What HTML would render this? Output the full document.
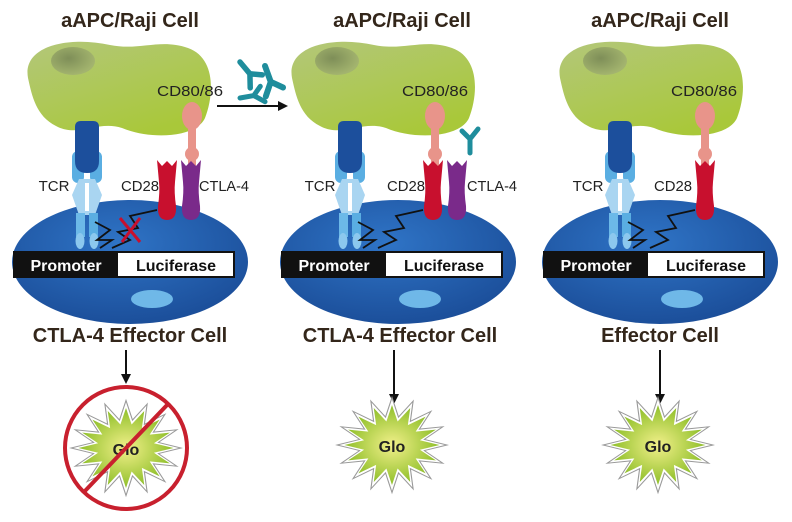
<!DOCTYPE html>
<html><head><meta charset="utf-8"><style>
html,body{margin:0;padding:0;background:#fff;}
svg{display:block;}
text{font-family:"Liberation Sans",sans-serif;}
.t{font-size:20px;font-weight:bold;fill:#33261a;}
.l{font-size:15px;fill:#222;}
.b{font-size:16px;font-weight:bold;}
</style></head><body>
<svg width="792" height="522" viewBox="0 0 792 522" xmlns="http://www.w3.org/2000/svg">
<defs>
<linearGradient id="gr" x1="0" y1="0" x2="0.6" y2="1"><stop offset="0" stop-color="#b3c77a"/><stop offset="1" stop-color="#a9c83a"/></linearGradient>
<radialGradient id="bl" cx="0.45" cy="0.35" r="0.7"><stop offset="0" stop-color="#2f74c6"/><stop offset="1" stop-color="#1a4c97"/></radialGradient>
<radialGradient id="gl" cx="0.5" cy="0.5" r="0.5"><stop offset="0" stop-color="#f2f08a"/><stop offset="1" stop-color="#8fbf2a"/></radialGradient>
<radialGradient id="nu" cx="0.4" cy="0.4" r="0.6"><stop offset="0" stop-color="#7e8e58"/><stop offset="1" stop-color="#a3b46e"/></radialGradient>
<polygon id="star" points="50,0 29.4,5.9 46.2,19.2 24.9,16.7 35.4,35.4 16.7,24.9 19.2,46.2 5.9,29.4 0,50 -5.9,29.4 -19.2,46.2 -16.7,24.9 -35.4,35.4 -24.9,16.7 -46.2,19.2 -29.4,5.9 -50,0 -29.4,-5.9 -46.2,-19.2 -24.9,-16.7 -35.4,-35.4 -16.7,-24.9 -19.2,-46.2 -5.9,-29.4 0,-50 5.9,-29.4 19.2,-46.2 16.7,-24.9 35.4,-35.4 24.9,-16.7 46.2,-19.2 29.4,-5.9"/>
<g id="tcr">
<rect x="-15" y="30" width="12" height="32" rx="6" fill="#5aaee2"/>
<rect x="3" y="30" width="12" height="32" rx="6" fill="#5aaee2"/>
<polygon points="-8,58 8,58 15,74 8,94 -8,94 -15,74" fill="#a9d5f1"/>
<rect x="-2" y="62" width="4" height="28" fill="#fff"/>
<rect x="-11" y="92" width="9" height="24" fill="#6cb9e8"/>
<rect x="2" y="92" width="9" height="24" fill="#5aaee2"/>
<ellipse cx="-7" cy="120" rx="4.5" ry="8" fill="#8cc8ee"/>
<ellipse cx="7" cy="120" rx="4.5" ry="8" fill="#8cc8ee"/>
<path d="M-12,6 Q-12,0 -6,0 L6,0 Q12,0 12,6 L12,40 Q12,52 0,52 Q-12,52 -12,40 Z" fill="#1c4f9c"/>
</g>
<g id="cd80">
<ellipse cx="0" cy="14" rx="10" ry="14" fill="#e8948a"/>
<rect x="-4" y="22" width="8" height="30" fill="#e8948a"/>
<circle cx="0" cy="52" r="7" fill="#e8948a"/>
<rect x="-4" y="56" width="8" height="8" fill="#e8948a"/>
</g>
<path id="rec" d="M-10,0 L-5,6 L0,1 L5,6 L10,0 L8,22 Q7,32 9,46 Q10,60 0,60 Q-10,60 -9,46 Q-7,32 -8,22 Z"/>
<g id="ab" fill="none" stroke="#1f8d9c" stroke-width="5" stroke-linecap="round">
<path d="M0,0 L0,14 M0,14 L-8,24 M0,14 L8,22"/>
</g>
</defs>

<line x1="217" y1="106" x2="280" y2="106" stroke="#111" stroke-width="2"/>
<polygon points="288,106 278,101 278,111" fill="#111"/>
<use href="#ab" transform="translate(240,62) rotate(-40) scale(1.1)"/>
<use href="#ab" transform="translate(265,66) rotate(-20) scale(1.2)"/>
<use href="#ab" transform="translate(240,98) rotate(-100) scale(1)"/>

<g>
<text x="130" y="27" text-anchor="middle" class="t">aAPC/Raji Cell</text>
<path d="M28,78 C22,45 70,36 110,45 C140,51 160,38 188,48 C216,58 214,95 205,118 C196,138 150,140 122,128 C98,120 78,138 56,126 C36,116 32,96 28,78 Z" fill="url(#gr)"/>
<ellipse cx="73" cy="61" rx="22" ry="14" fill="url(#nu)"/>
<ellipse cx="130" cy="262" rx="118" ry="62" fill="url(#bl)"/>
<ellipse cx="152" cy="299" rx="21" ry="9" fill="#6fb8e8"/>
<rect x="14" y="252" width="220" height="25" fill="#fff" stroke="#111" stroke-width="2"/>
<rect x="14" y="252" width="104" height="25" fill="#111"/>
<text x="66" y="271" text-anchor="middle" class="b" fill="#fff">Promoter</text>
<text x="176" y="271" text-anchor="middle" class="b" fill="#111">Luciferase</text>
<use href="#tcr" transform="translate(87,121)"/>
<use href="#cd80" transform="translate(192,102)"/>
<use href="#rec" fill="#c8102e" transform="translate(167,160)"/>
<use href="#rec" fill="#7a2a8a" transform="translate(191,160)"/>
<text x="190" y="96" text-anchor="middle" class="l" textLength="66" lengthAdjust="spacingAndGlyphs">CD80/86</text>
<text x="54" y="191" text-anchor="middle" class="l">TCR</text>
<text x="140" y="191" text-anchor="middle" class="l" textLength="38" lengthAdjust="spacingAndGlyphs">CD28</text>
<text x="224" y="191" text-anchor="middle" class="l" textLength="50" lengthAdjust="spacingAndGlyphs">CTLA-4</text>
<path d="M95,222 L110,230 L97,240 L112,240 L100,248" fill="none" stroke="#111" stroke-width="1.8"/>
<path d="M157,210 L130,216 L138,228 L118,232 L130,240 L112,248" fill="none" stroke="#111" stroke-width="1.8"/>
<path d="M120,218 L140,242 M140,218 L122,242" stroke="#c8102e" stroke-width="3"/>
<text x="130" y="342" text-anchor="middle" class="t">CTLA-4 Effector Cell</text>
<line x1="126" y1="350" x2="126" y2="378" stroke="#111" stroke-width="2"/>
<polygon points="126,384 121,374 131,374" fill="#111"/>
<use href="#star" transform="translate(126,448) scale(1.1,0.95)" fill="#fff" stroke="#999" stroke-width="1"/>
<use href="#star" transform="translate(126,448) scale(0.95,0.8)" fill="url(#gl)"/>
<text x="126" y="455" text-anchor="middle" class="b" fill="#222" font-size="16">Glo</text>
<circle cx="126" cy="448" r="61" fill="none" stroke="#c8202e" stroke-width="4"/>
<line x1="84" y1="492" x2="168" y2="404" stroke="#c8202e" stroke-width="4"/>
</g>

<g>
<text x="402" y="27" text-anchor="middle" class="t">aAPC/Raji Cell</text>
<path d="M292,78 C286,45 334,36 374,45 C404,51 424,38 452,48 C480,58 478,95 469,118 C460,138 414,140 386,128 C362,120 342,138 320,126 C300,116 296,96 292,78 Z" fill="url(#gr)"/>
<ellipse cx="337" cy="61" rx="22" ry="14" fill="url(#nu)"/>
<ellipse cx="398" cy="262" rx="118" ry="62" fill="url(#bl)"/>
<ellipse cx="420" cy="299" rx="21" ry="9" fill="#6fb8e8"/>
<rect x="282" y="252" width="220" height="25" fill="#fff" stroke="#111" stroke-width="2"/>
<rect x="282" y="252" width="104" height="25" fill="#111"/>
<text x="334" y="271" text-anchor="middle" class="b" fill="#fff">Promoter</text>
<text x="444" y="271" text-anchor="middle" class="b" fill="#111">Luciferase</text>
<use href="#tcr" transform="translate(350,121)"/>
<use href="#cd80" transform="translate(435,102)"/>
<use href="#rec" fill="#c8102e" transform="translate(433,160)"/>
<use href="#rec" fill="#7a2a8a" transform="translate(457,160)"/>
<use href="#ab" transform="translate(470,135) rotate(180) translate(0,-18)"/>
<text x="435" y="96" text-anchor="middle" class="l" textLength="66" lengthAdjust="spacingAndGlyphs">CD80/86</text>
<text x="320" y="191" text-anchor="middle" class="l">TCR</text>
<text x="406" y="191" text-anchor="middle" class="l" textLength="38" lengthAdjust="spacingAndGlyphs">CD28</text>
<text x="492" y="191" text-anchor="middle" class="l" textLength="50" lengthAdjust="spacingAndGlyphs">CTLA-4</text>
<path d="M358,222 L373,230 L360,240 L375,240 L363,248" fill="none" stroke="#111" stroke-width="1.8"/>
<path d="M423,210 L396,216 L404,228 L384,232 L396,240 L378,248" fill="none" stroke="#111" stroke-width="1.8"/>
<text x="400" y="342" text-anchor="middle" class="t">CTLA-4 Effector Cell</text>
<line x1="394" y1="350" x2="394" y2="398" stroke="#111" stroke-width="2"/>
<polygon points="394,404 389,394 399,394" fill="#111"/>
<use href="#star" transform="translate(392,445) scale(1.1,0.95)" fill="#fff" stroke="#999" stroke-width="1"/>
<use href="#star" transform="translate(392,445) scale(0.95,0.8)" fill="url(#gl)"/>
<text x="392" y="452" text-anchor="middle" class="b" fill="#222" font-size="16">Glo</text>
</g>

<g>
<text x="660" y="27" text-anchor="middle" class="t">aAPC/Raji Cell</text>
<path d="M560,78 C554,45 602,36 642,45 C672,51 692,38 720,48 C748,58 746,95 737,118 C728,138 682,140 654,128 C630,120 610,138 588,126 C568,116 564,96 560,78 Z" fill="url(#gr)"/>
<ellipse cx="605" cy="61" rx="22" ry="14" fill="url(#nu)"/>
<ellipse cx="660" cy="262" rx="118" ry="62" fill="url(#bl)"/>
<ellipse cx="682" cy="299" rx="21" ry="9" fill="#6fb8e8"/>
<rect x="544" y="252" width="220" height="25" fill="#fff" stroke="#111" stroke-width="2"/>
<rect x="544" y="252" width="104" height="25" fill="#111"/>
<text x="596" y="271" text-anchor="middle" class="b" fill="#fff">Promoter</text>
<text x="706" y="271" text-anchor="middle" class="b" fill="#111">Luciferase</text>
<use href="#tcr" transform="translate(620,121)"/>
<use href="#cd80" transform="translate(705,102)"/>
<use href="#rec" fill="#c8102e" transform="translate(705,160)"/>
<text x="704" y="96" text-anchor="middle" class="l" textLength="66" lengthAdjust="spacingAndGlyphs">CD80/86</text>
<text x="588" y="191" text-anchor="middle" class="l">TCR</text>
<text x="673" y="191" text-anchor="middle" class="l" textLength="38" lengthAdjust="spacingAndGlyphs">CD28</text>
<path d="M628,222 L643,230 L630,240 L645,240 L633,248" fill="none" stroke="#111" stroke-width="1.8"/>
<path d="M695,210 L668,216 L676,228 L656,232 L668,240 L650,248" fill="none" stroke="#111" stroke-width="1.8"/>
<text x="660" y="342" text-anchor="middle" class="t">Effector Cell</text>
<line x1="660" y1="350" x2="660" y2="398" stroke="#111" stroke-width="2"/>
<polygon points="660,404 655,394 665,394" fill="#111"/>
<use href="#star" transform="translate(658,445) scale(1.1,0.95)" fill="#fff" stroke="#999" stroke-width="1"/>
<use href="#star" transform="translate(658,445) scale(0.95,0.8)" fill="url(#gl)"/>
<text x="658" y="452" text-anchor="middle" class="b" fill="#222" font-size="16">Glo</text>
</g>
</svg>
</body></html>
